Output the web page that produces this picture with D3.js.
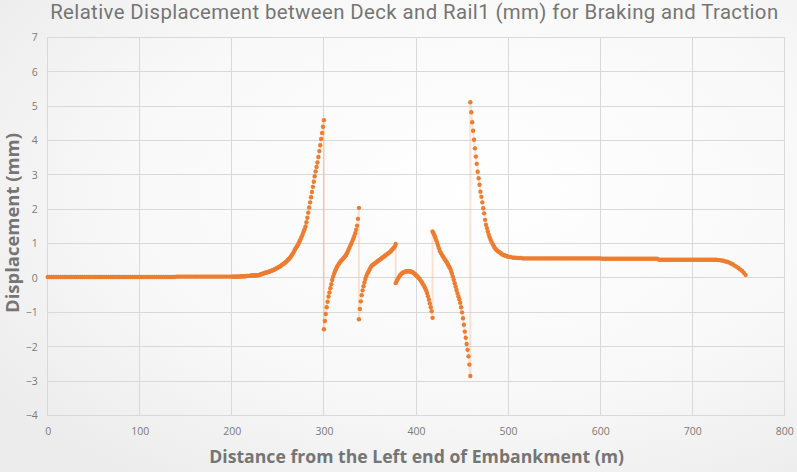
<!DOCTYPE html>
<html>
<head>
<meta charset="utf-8">
<script src="https://cdnjs.cloudflare.com/ajax/libs/d3/7.8.5/d3.min.js"></script>
<style>
  html, body { margin: 0; padding: 0; background: #f4f4f4; }
  svg { display: block; }
  text { font-family: "Open Sans", "Noto Sans", sans-serif; }
</style>
</head>
<body>
<svg id="chart" width="797" height="472"></svg>
<script>
// ---------- DATA ----------
const chartTitle = "Relative Displacement between Deck and Rail1 (mm) for Braking and Traction";
const xAxisTitle = "Distance from the Left end of Embankment (m)";
const yAxisTitle = "Displacement (mm)";
const xTicks = [0, 100, 200, 300, 400, 500, 600, 700, 800];
const yTicks = [-4, -3, -2, -1, 0, 1, 2, 3, 4, 5, 6, 7];

// Each segment: first distance (m), spacing (m), displacement values (mm)
const flatStartX = 0, flatStep = 2;
const flatY = [
  0.03,0.03,0.03,0.03,0.03,0.03,0.03,0.03,0.03,0.03,
  0.03,0.03,0.03,0.03,0.03,0.03,0.03,0.03,0.03,0.03,
  0.03,0.03,0.03,0.03,0.03,0.03,0.03,0.03,0.03,0.03,
  0.03,0.03,0.03,0.03,0.03,0.03,0.03,0.03,0.03,0.03,
  0.03,0.03,0.03,0.03,0.03,0.03,0.03,0.03,0.03,0.03,
  0.03,0.03,0.03,0.03,0.03,0.03,0.03,0.03,0.03,0.03,
  0.03,0.03,0.03,0.03,0.03,0.03,0.03,0.03,0.03,0.03,
  0.04,0.04,0.04,0.04,0.04,0.04,0.04,0.04,0.04,0.04,
  0.04,0.04,0.04,0.04,0.04,0.04,0.04,0.04,0.04,0.04,
  0.04,0.04,0.04,0.04,0.04,0.04,0.04,0.04,0.04,0.04
];
const segAStartX = 200, segAStep = 1;
const segAY = [
  0.04,0.04,0.04,0.04,0.04,0.04,0.04,0.04,0.04,0.04,
  0.05,0.05,0.05,0.05,0.05,0.05,
  0.06,0.06,0.06,0.06,0.06,
  0.07,0.07,0.07,0.07,0.07,
  0.08,0.08,0.08,0.08,
  0.09,0.10,0.11,0.12,0.13,0.14,0.15,0.15,0.16,0.17,0.18,
  0.19,0.20,0.21,0.22,0.23,0.24,0.26,0.27,0.29,0.30,
  0.32,0.33,0.35,0.37,0.39,0.41,0.43,0.45,0.47,0.50,
  0.53,0.55,0.58,0.62,0.66,0.70,0.75,0.80,0.85,0.89,
  0.93,0.98,1.03,1.09,1.15,1.21,1.28,1.35,1.42,1.50,
  1.62,1.75,1.90,2.05,2.20,2.35,2.50,2.65,2.80,2.96,
  3.10,3.23,3.36,3.52,3.69,3.86,4.04,4.22,4.40,4.59
];
const segBStartX = 300, segBStep = 1;
const segBY = [
  -1.49,-1.25,-1.05,-0.85,-0.69,-0.54,-0.42,-0.30,-0.18,-0.06,
  0.04,0.12,0.19,0.25,0.31,0.36,0.40,0.44,0.48,0.51,
  0.54,0.57,0.60,0.63,0.67,0.72,0.78,0.84,0.90,0.96,
  1.02,1.08,1.15,1.22,1.30,1.40,1.52,1.72,2.04
];
const segCStartX = 338, segCStep = 1;
const segCY = [
  -1.20,-0.90,-0.68,-0.50,-0.36,-0.24,-0.13,-0.03,0.05,0.12,
  0.17,0.22,0.27,0.32,0.36,0.38,0.40,0.42,0.44,0.46,
  0.48,0.50,0.52,0.54,0.56,0.58,0.60,0.62,0.64,0.66,
  0.68,0.70,0.72,0.74,0.76,0.79,0.82,0.85,0.88,0.92,0.99
];
const segDStartX = 378, segDStep = 1;
const segDY = [
  -0.15,-0.09,-0.04,0.01,0.05,0.09,0.12,0.14,0.16,0.17,
  0.18,0.19,0.19,0.20,0.20,0.19,0.19,0.18,0.17,0.15,
  0.13,0.11,0.08,0.06,0.03,0.00,-0.03,-0.07,-0.11,-0.16,
  -0.20,-0.25,-0.30,-0.36,-0.44,-0.53,-0.63,-0.74,-0.85,-0.97,-1.16
];
const segEStartX = 418, segEStep = 1;
const segEY = [
  1.35,1.30,1.24,1.17,1.10,1.02,0.94,0.86,0.78,0.73,
  0.68,0.64,0.60,0.55,0.51,0.47,0.43,0.38,0.33,0.28,
  0.21,0.13,0.04,-0.05,-0.15,-0.25,-0.35,-0.44,-0.53,-0.62,
  -0.72,-0.85,-1.00,-1.17,-1.36,-1.56,-1.74,-1.92,-2.09,-2.28,-2.52,-2.85
];
const segFStartX = 459, segFStep = 1;
const segFY = [
  5.11,4.82,4.53,4.28,4.02,3.77,3.53,3.32,3.09,2.90,
  2.71,2.51,2.36,2.20,2.03,1.88,1.69,1.55,1.45,1.35,
  1.26,1.18,1.11,1.05,1.00,0.95,0.90,0.86,0.83,0.80,
  0.78,0.76,0.74,0.72,0.70,0.68,0.67,0.66,0.65,0.64,0.63,0.62
];
const tailStartX = 502, tailStep = 2;
const tailY = [
  0.61,0.60,0.59,0.59,0.58,0.58,0.58,0.57,0.57,0.57,
  0.57,0.57,0.57,0.57,0.57,0.57,0.57,0.57,0.57,0.57,
  0.57,0.57,0.57,0.57,0.57,0.57,0.57,0.57,0.57,0.57,
  0.57,0.57,0.57,0.57,0.57,0.57,0.57,0.57,0.57,0.57,
  0.57,0.57,0.57,0.57,0.57,0.57,0.57,0.57,0.57,0.57,
  0.56,0.56,0.56,0.56,0.56,0.56,0.56,0.56,0.56,0.56,
  0.56,0.56,0.56,0.56,0.56,0.56,0.56,0.56,0.56,0.56,
  0.56,0.56,0.56,0.56,0.56,0.56,0.56,0.56,0.56,0.56,0.56,
  0.53,0.53,0.53,0.53,0.53,0.53,0.53,0.53,0.53,0.53,
  0.53,0.53,0.53,0.53,0.53,0.53,0.53,0.53,0.53,0.53,
  0.53,0.53,0.53,0.53,0.53,0.53,0.53,0.53,0.53,0.53,0.53,
  0.53,0.52,0.52,0.51,0.50,0.48,0.47,0.45,0.42,0.40,
  0.36,0.33,0.29,0.25,0.21,0.15,0.09
];

// Build the point table from the named arrays
const segments = [
  [flatStartX, flatStep, flatY],
  [segAStartX, segAStep, segAY],
  [segBStartX, segBStep, segBY],
  [segCStartX, segCStep, segCY],
  [segDStartX, segDStep, segDY],
  [segEStartX, segEStep, segEY],
  [segFStartX, segFStep, segFY],
  [tailStartX, tailStep, tailY]
];
const points = [];
segments.forEach(([x0, dx, ys]) => ys.forEach((y, i) => points.push({x: x0 + i * dx, y: y})));

// ---------- LAYOUT ----------
const W = 797, H = 472;
const plot = {left: 47.7, right: 784.3, top: 37.3, bottom: 415.5};
const svg = d3.select("#chart");

// background gradient
const defs = svg.append("defs");
const rg = defs.append("radialGradient").attr("id", "bg")
  .attr("cx", "60%").attr("cy", "40%").attr("r", "75%");
rg.append("stop").attr("offset", "0%").attr("stop-color", "#ffffff");
rg.append("stop").attr("offset", "60%").attr("stop-color", "#f8f8f8");
rg.append("stop").attr("offset", "100%").attr("stop-color", "#ececec");
svg.append("rect").attr("width", W).attr("height", H).attr("fill", "url(#bg)");

const x = d3.scaleLinear().domain([0, 800]).range([plot.left, plot.right]);
const y = d3.scaleLinear().domain([-4, 7]).range([plot.bottom, plot.top]);

// gridlines
const grid = svg.append("g").attr("stroke", "#d9d9d9").attr("stroke-width", 1).attr("shape-rendering", "crispEdges");
grid.selectAll("line.v").data(xTicks).join("line").attr("class", "v")
  .attr("x1", d => x(d)).attr("x2", d => x(d)).attr("y1", plot.top).attr("y2", plot.bottom);
grid.selectAll("line.h").data(yTicks).join("line").attr("class", "h")
  .attr("x1", plot.left).attr("x2", plot.right).attr("y1", d => y(d)).attr("y2", d => y(d));

// axes (labels only, via d3 axis)
const xAxis = d3.axisBottom(x).tickValues(xTicks).tickSize(0).tickPadding(0).tickFormat(d3.format("d"));
const gx = svg.append("g").attr("transform", `translate(0,${plot.bottom})`).call(xAxis);
gx.select(".domain").remove();
gx.selectAll("text").attr("dy", null).attr("y", 19.5).attr("fill", "#7a7a7a")
  .style("font-size", "10.5px").style("font-family", "'Open Sans', sans-serif");

const yAxis = d3.axisLeft(y).tickValues(yTicks).tickSize(0).tickPadding(0).tickFormat(d3.format("d"));
const gy = svg.append("g").attr("transform", `translate(${plot.left - 10},0)`).call(yAxis);
gy.select(".domain").remove();
gy.selectAll("text").attr("fill", "#7a7a7a")
  .style("font-size", "10.5px").style("font-family", "'Open Sans', sans-serif");

// series: faint connecting line + markers
const line = d3.line().x(d => x(d.x)).y(d => y(d.y));
svg.append("path").datum(points).attr("d", line)
  .attr("fill", "none").attr("stroke", "#f4b183").attr("stroke-opacity", 0.35).attr("stroke-width", 2);
svg.append("g").selectAll("circle").data(points).join("circle")
  .attr("cx", d => x(d.x)).attr("cy", d => y(d.y)).attr("r", 2.2)
  .attr("fill", "#ed7d31");

// titles, fitted to the reference widths
function fit(sel, target) {
  const w = sel.node().getComputedTextLength();
  const fs = parseFloat(sel.style("font-size"));
  sel.style("font-size", (fs * target / w) + "px");
}
const t = svg.append("text").attr("x", (47.7 + 781) / 2).attr("y", 18.5).attr("text-anchor", "middle")
  .attr("fill", "#757575").style("font-family", "Roboto, 'Open Sans', sans-serif")
  .style("letter-spacing", "0.4px").style("font-size", "18px").text(chartTitle);
fit(t, 733);

const xt = svg.append("text").attr("x", (209.3 + 624) / 2).attr("y", 463.3).attr("text-anchor", "middle")
  .attr("fill", "#757575").style("font-weight", "bold").style("font-size", "17px").text(xAxisTitle);
fit(xt, 415);

const yt = svg.append("text").attr("transform", `translate(19,${223}) rotate(-90)`).attr("text-anchor", "middle")
  .attr("fill", "#757575").style("font-weight", "bold").style("font-size", "17px").text(yAxisTitle);
fit(yt, 180);
</script>
</body>
</html>
